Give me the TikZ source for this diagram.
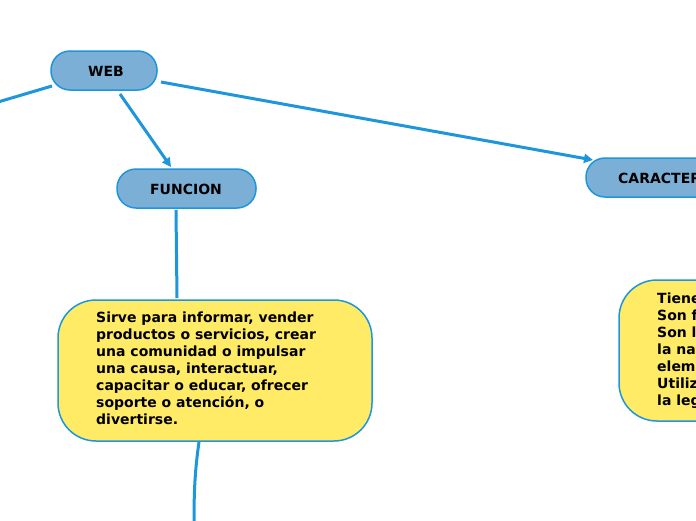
\documentclass[tikz,border=0pt]{standalone}
\usepackage{fontspec}
\setmainfont{DejaVu Sans}
\usetikzlibrary{arrows.meta}
\definecolor{lineblue}{HTML}{1E96DC}
\definecolor{topicblue}{HTML}{7BAFD6}
\definecolor{noteyellow}{HTML}{FFEB66}
\tikzset{
  topic/.style={draw=lineblue,line width=1.5pt,fill=topicblue,rounded corners=19pt},
  note/.style={draw=lineblue,line width=1.5pt,fill=noteyellow,rounded corners=38pt},
  conn/.style={draw=lineblue,line width=3pt},
  arr/.style={conn,-{Triangle[length=9pt,width=9pt]}},
  lbl/.style={font=\bfseries\fontsize{14}{16}\selectfont},
  txt/.style={align=left,anchor=north west,inner sep=0,font=\bfseries\fontsize{14}{17}\selectfont}
}
\begin{document}
\begin{tikzpicture}[x=1pt,y=-1pt]
\useasboundingbox (0,0) rectangle (696,520);
\clip (0,0) rectangle (696,520);
\fill[white] (0,0) rectangle (696,520);
% nodes
\path[topic] (51,51) rectangle (157,90);
\node[lbl] (web) at (106,71) {WEB};
\path[topic] (117,169) rectangle (256,208);
\node[lbl] (fun) at (186,189) {FUNCION};
\path[topic] (586,158) rectangle (800,197);
\node[lbl,anchor=west,inner sep=0] (car) at (618,178) {CARACTERISTICAS};
\path[note] (58,300) rectangle (372,441);
\node[txt] (t1) at (96,312) { Sirve para informar, vender\\productos o servicios, crear\\una comunidad o impulsar\\una causa, interactuar,\\capacitar o educar, ofrecer\\soporte o atención, o\\divertirse.};
\path[note] (619,280) rectangle (860,421);
\node[txt] (t2) at (657,292) {Tienen un diseño\\Son fáciles\\Son los\\la naturaleza\\elementos\\Utilizan\\la legibilidad};
% connectors
\coordinate (lft) at (-2,102);
\coordinate (bot) at (194,522);
\draw[conn] (52,86) -- (lft);
\draw[arr] (120,94) -- (171,167);
\draw[arr] (161,82) -- (593,160);
\draw[conn] (176,210) -- (177,298);
\draw[conn] (199,442) .. controls (195,470) and (194,490) .. (bot);
\end{tikzpicture}
\end{document}
